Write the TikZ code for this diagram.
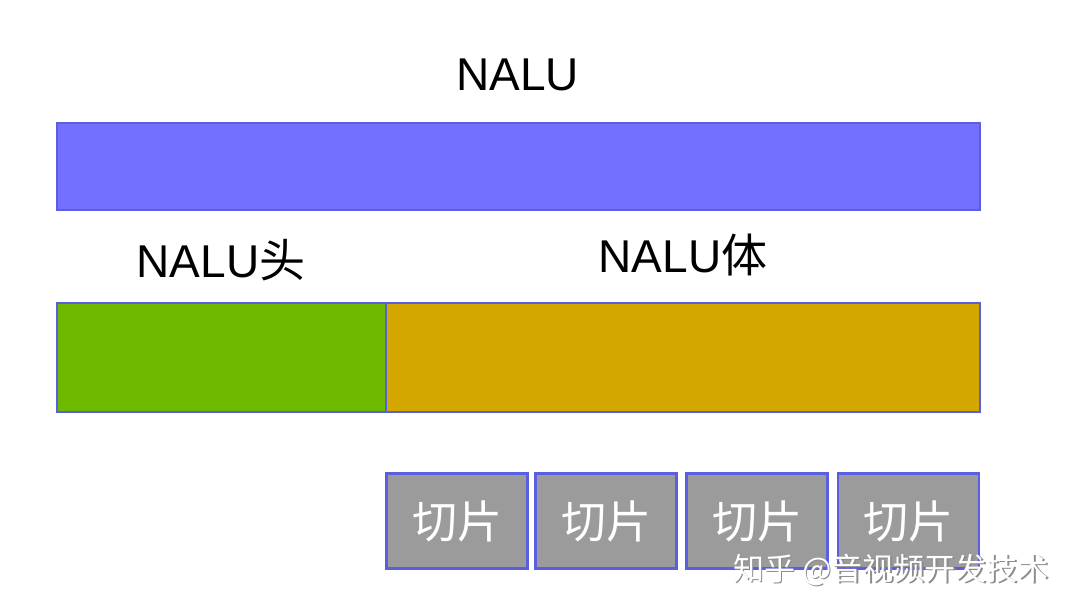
\documentclass[tikz,border=0pt]{standalone}
\usepackage{fontspec}
\setmainfont{Liberation Sans}
\newfontfamily\cjk{Noto Sans CJK SC}
\definecolor{barblue}{HTML}{7470FF}
\definecolor{edgeblue}{HTML}{5A5FE0}
\definecolor{headgreen}{HTML}{6EBA00}
\definecolor{bodygold}{HTML}{D4A600}
\definecolor{slicegray}{HTML}{9B9B9B}
\tikzset{
  bar/.style={draw=edgeblue,line width=2.5pt,inner sep=0pt,outer sep=0pt},
  slicebox/.style={bar,fill=slicegray,minimum width=141pt,minimum height=95pt,
    text=white,font=\fontsize{45}{45}\selectfont\cjk},
  title/.style={font=\fontsize{46}{46}\selectfont,anchor=base,inner sep=0pt},
}
\begin{document}
\begin{tikzpicture}[x=1pt,y=-1pt]
\useasboundingbox (0,0) rectangle (1080,613);
%%
\node (nalu_lbl) at (517.5,90) [title] {NALU};
\node (nalu) at (518.5,166.5) [bar,fill=barblue,minimum width=923pt,minimum height=87pt] {};
%
\node (head_lbl) at (221,277) [title] {NALU{\cjk 头}};
\node (body_lbl) at (683,272) [title] {NALU{\cjk 体}};
\node (body) at (683,357.5) [bar,fill=bodygold,minimum width=594pt,minimum height=109pt] {};
\node (head) at (221.5,357.5) [bar,fill=headgreen,minimum width=329pt,minimum height=109pt] {};
%
\node (slice_1) at (457,521) [slicebox] {切片};
\node (slice_2) at (606,521) [slicebox] {切片};
\node (slice_3) at (757,521) [slicebox] {切片};
\node (slice_4) at (908.5,521) [slicebox] {切片};
%
\node (mark_shadow) at (892.5,571.5) [font=\fontsize{31}{31}\selectfont\cjk,text=black!45] {知乎 @音视频开发技术};
\node (mark) at (891,570) [font=\fontsize{31}{31}\selectfont\cjk,text=white] {知乎 @音视频开发技术};
%
\end{tikzpicture}
\end{document}
